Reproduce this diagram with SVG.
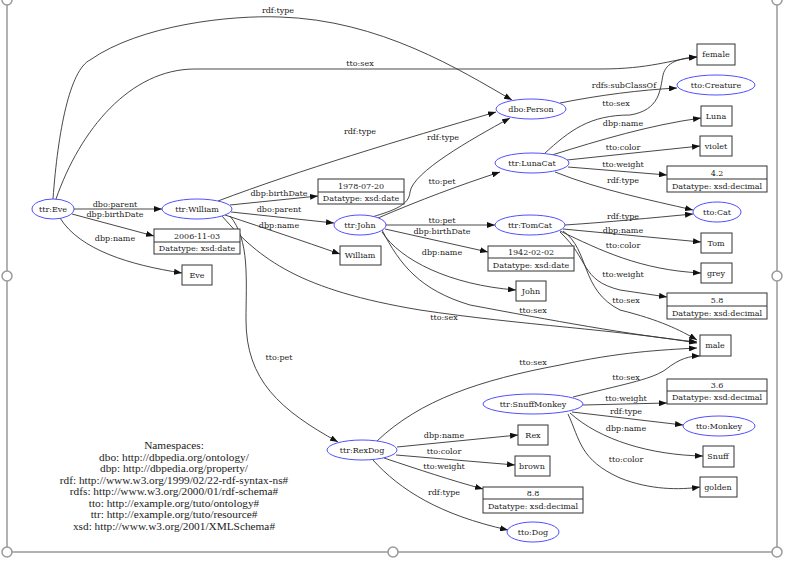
<svg xmlns="http://www.w3.org/2000/svg" width="789" height="565" viewBox="0 0 789 565">
<style>
text{font-family:"DejaVu Serif","Liberation Serif",serif;font-size:8px;fill:#222;text-anchor:middle}
.n ellipse{fill:#fff;stroke:#5050ff;stroke-width:1}
.n rect{fill:#fff;stroke:#333;stroke-width:1}
.n line{stroke:#333}
#edges path{fill:none;stroke:#333;stroke-width:0.9;marker-end:url(#a)}
.ns{font-size:11.3px;font-family:"Liberation Serif",serif}
.frame{stroke:#999;stroke-width:1.5;fill:none}
.h{fill:#fff;stroke:#999;stroke-width:1.5}
</style>
<defs><marker id="a" markerWidth="8" markerHeight="6" refX="8" refY="3" orient="auto" markerUnits="userSpaceOnUse"><path d="M0,0 L8,3 L0,6z" fill="#111"/></marker></defs>
<rect width="789" height="565" fill="#fff"/>
<g class="frame"><line x1="7" y1="0" x2="7" y2="552"/><line x1="777" y1="0" x2="777" y2="552"/><line x1="7" y1="552" x2="777" y2="552"/></g>
<g id="edges">
<path d="M53,199 C58,130 70,70 90,60 C140,25 230,15 280,17 C380,20 460,70 512,100"/>
<path d="M56,199 C80,130 130,69 195,69 L600,69 C650,69 670,60 697,57"/>
<path d="M74,209 L162,209"/>
<path d="M72,214 L154,236"/>
<path d="M60,218 C80,250 130,265 182,273"/>
<path d="M218,201 C300,170 400,140 496,112"/>
<path d="M230,205 L318,196"/>
<path d="M231,212 L334,223"/>
<path d="M225,215 C270,230 300,240 340,254"/>
<path d="M222,216 C260,260 300,290 420,310 C520,325 620,330 697,343"/>
<path d="M230,216 C250,240 246,280 246,320 C246,380 280,410 338,442"/>
<path d="M372,217 C395,210 409,205 410,192 C413,172 470,140 510,118"/>
<path d="M378,218 C420,200 460,185 500,172"/>
<path d="M386,225 L495,225"/>
<path d="M385,229 L488,252"/>
<path d="M382,232 C400,260 450,285 516,290"/>
<path d="M382,230 C400,265 420,290 470,305 C550,320 630,335 697,342"/>
<path d="M544,154 C570,130 590,115 630,115 C660,110 660,90 663,75 C666,62 680,58 697,57"/>
<path d="M552,155 C600,140 650,125 701,118"/>
<path d="M567,160 L700,146"/>
<path d="M568,167 L667,175"/>
<path d="M555,172 C600,190 650,200 693,210"/>
<path d="M560,103 C600,95 640,90 677,88"/>
<path d="M565,225 C610,222 650,218 693,214"/>
<path d="M563,229 L701,242"/>
<path d="M560,231 C600,250 640,270 701,273"/>
<path d="M560,232 C590,260 580,280 620,290 L667,297"/>
<path d="M563,231 C590,250 580,290 620,310 C660,320 680,330 697,340"/>
<path d="M377,441 C420,400 480,380 560,365 C620,352 660,350 697,348"/>
<path d="M573,397 C620,385 650,380 665,370 C680,358 690,356 700,356"/>
<path d="M583,405 L667,403"/>
<path d="M572,412 L683,425"/>
<path d="M570,413 C600,440 650,455 703,456"/>
<path d="M568,414 C580,440 580,460 620,478 C650,490 680,490 700,487"/>
<path d="M397,447 L518,435"/>
<path d="M396,455 L515,465"/>
<path d="M384,458 C420,470 450,480 483,489"/>
<path d="M373,460 C400,490 440,515 508,530"/>
</g>
<g id="edge-labels">
<text x="278" y="13">rdf:type</text><text x="360" y="66">tto:sex</text>
<text x="115" y="207">dbo:parent</text><text x="115" y="217">dbp:birthDate</text><text x="115" y="241">dbp:name</text>
<text x="360" y="134">rdf:type</text><text x="279" y="196">dbp:birthDate</text><text x="279" y="212">dbo:parent</text><text x="279" y="228">dbp:name</text>
<text x="444" y="320">tto:sex</text><text x="279" y="360">tto:pet</text>
<text x="443" y="140">rdf:type</text><text x="442" y="184">tto:pet</text><text x="442" y="223">tto:pet</text><text x="442" y="234">dbp:birthDate</text><text x="442" y="255">dbp:name</text><text x="533" y="313">tto:sex</text>
<text x="616" y="106">tto:sex</text><text x="623" y="126">dbp:name</text><text x="623" y="150">tto:color</text><text x="623" y="167">tto:weight</text><text x="623" y="183">rdf:type</text>
<text x="624" y="88">rdfs:subClassOf</text>
<text x="623" y="219">rdf:type</text><text x="623" y="233">dbp:name</text><text x="623" y="248">tto:color</text><text x="623" y="277">tto:weight</text><text x="626" y="303">tto:sex</text>
<text x="533" y="365">tto:sex</text><text x="626" y="380">tto:sex</text><text x="626" y="401">tto:weight</text><text x="626" y="414">rdf:type</text><text x="626" y="431">dbp:name</text><text x="626" y="462">tto:color</text>
<text x="444" y="438">dbp:name</text><text x="444" y="454">tto:color</text><text x="444" y="469">tto:weight</text><text x="444" y="495">rdf:type</text>
</g>
<g id="Eve" class="n"><ellipse cx="53" cy="209" rx="21" ry="10"/><text x="53" y="212">ttr:Eve</text></g>
<g id="William" class="n"><ellipse cx="197" cy="209" rx="35" ry="10"/><text x="197" y="212">ttr:William</text></g>
<g id="John" class="n"><ellipse cx="360" cy="225" rx="26" ry="10"/><text x="360" y="228">ttr:John</text></g>
<g id="Person" class="n"><ellipse cx="531" cy="109" rx="35" ry="10"/><text x="531" y="112">dbo:Person</text></g>
<g id="Creature" class="n"><ellipse cx="716" cy="85" rx="39" ry="10"/><text x="716" y="88">tto:Creature</text></g>
<g id="female" class="n"><rect x="697" y="44" width="38" height="21"/><text x="716" y="57">female</text></g>
<g id="Luna" class="n"><rect x="701" y="106" width="31" height="20"/><text x="716" y="119">Luna</text></g>
<g id="violet" class="n"><rect x="700" y="136" width="32" height="20"/><text x="716" y="149">violet</text></g>
<g id="w42" class="n"><rect x="667" y="166" width="100" height="26"/><line x1="667" y1="179" x2="767" y2="179"/><text x="717" y="176">4.2</text><text x="717" y="189">Datatype: xsd:decimal</text></g>
<g id="LunaCat" class="n"><ellipse cx="532" cy="163" rx="37" ry="10"/><text x="532" y="166">ttr:LunaCat</text></g>
<g id="Cat" class="n"><ellipse cx="717" cy="212" rx="24" ry="10"/><text x="717" y="215">tto:Cat</text></g>
<g id="TomCat" class="n"><ellipse cx="530" cy="225" rx="35" ry="10"/><text x="530" y="228">ttr:TomCat</text></g>
<g id="Tom" class="n"><rect x="701" y="233" width="31" height="20"/><text x="716" y="246">Tom</text></g>
<g id="grey" class="n"><rect x="701" y="263" width="31" height="20"/><text x="716" y="276">grey</text></g>
<g id="w58" class="n"><rect x="667" y="293" width="100" height="26"/><line x1="667" y1="306" x2="767" y2="306"/><text x="717" y="303">5.8</text><text x="717" y="316">Datatype: xsd:decimal</text></g>
<g id="male" class="n"><rect x="700" y="335" width="31" height="21"/><text x="715" y="348">male</text></g>
<g id="d1978" class="n"><rect x="318" y="179" width="86" height="25"/><line x1="318" y1="192" x2="404" y2="192"/><text x="361" y="189">1978-07-20</text><text x="361" y="201">Datatype: xsd:date</text></g>
<g id="d2006" class="n"><rect x="154" y="229" width="86" height="25"/><line x1="154" y1="242" x2="240" y2="242"/><text x="197" y="239">2006-11-03</text><text x="197" y="251">Datatype: xsd:date</text></g>
<g id="WilliamL" class="n"><rect x="340" y="246" width="41" height="19"/><text x="360" y="258">William</text></g>
<g id="EveL" class="n"><rect x="182" y="265" width="30" height="20"/><text x="197" y="278">Eve</text></g>
<g id="d1942" class="n"><rect x="488" y="246" width="86" height="25"/><line x1="488" y1="258" x2="574" y2="258"/><text x="531" y="255">1942-02-02</text><text x="531" y="268">Datatype: xsd:date</text></g>
<g id="JohnL" class="n"><rect x="516" y="281" width="30" height="20"/><text x="531" y="294">John</text></g>
<g id="w36" class="n"><rect x="667" y="379" width="100" height="25"/><line x1="667" y1="391" x2="767" y2="391"/><text x="717" y="388">3.6</text><text x="717" y="400">Datatype: xsd:decimal</text></g>
<g id="SnuffMonkey" class="n"><ellipse cx="533" cy="404" rx="50" ry="10"/><text x="533" y="407">ttr:SnuffMonkey</text></g>
<g id="Monkey" class="n"><ellipse cx="719" cy="426" rx="36" ry="10"/><text x="719" y="429">tto:Monkey</text></g>
<g id="Snuff" class="n"><rect x="703" y="446" width="31" height="21"/><text x="718" y="459">Snuff</text></g>
<g id="golden" class="n"><rect x="700" y="477" width="37" height="20"/><text x="718" y="490">golden</text></g>
<g id="RexDog" class="n"><ellipse cx="362" cy="450" rx="35" ry="10"/><text x="362" y="453">ttr:RexDog</text></g>
<g id="Rex" class="n"><rect x="518" y="425" width="30" height="20"/><text x="533" y="438">Rex</text></g>
<g id="brown" class="n"><rect x="515" y="456" width="35" height="20"/><text x="532" y="469">brown</text></g>
<g id="w88" class="n"><rect x="483" y="487" width="100" height="26"/><line x1="483" y1="499" x2="583" y2="499"/><text x="533" y="496">8.8</text><text x="533" y="509">Datatype: xsd:decimal</text></g>
<g id="Dog" class="n"><ellipse cx="533" cy="532" rx="26" ry="10"/><text x="533" y="535">tto:Dog</text></g>
<g id="namespaces">
<text x="174" y="449" class="ns">Namespaces:</text>
<text x="174" y="460.5" class="ns">dbo: http://dbpedia.org/ontology/</text>
<text x="174" y="472" class="ns">dbp: http://dbpedia.org/property/</text>
<text x="174" y="483.5" class="ns">rdf: http://www.w3.org/1999/02/22-rdf-syntax-ns#</text>
<text x="174" y="495" class="ns">rdfs: http://www.w3.org/2000/01/rdf-schema#</text>
<text x="174" y="506.5" class="ns">tto: http://example.org/tuto/ontology#</text>
<text x="174" y="518" class="ns">ttr: http://example.org/tuto/resource#</text>
<text x="174" y="529.5" class="ns">xsd: http://www.w3.org/2001/XMLSchema#</text>
</g>
<g><circle class="h" cx="7" cy="0" r="5"/><circle class="h" cx="7" cy="276" r="5"/><circle class="h" cx="7" cy="552" r="5"/><circle class="h" cx="393" cy="552" r="5"/><circle class="h" cx="777" cy="552" r="5"/><circle class="h" cx="777" cy="276" r="5"/><circle class="h" cx="777" cy="0" r="5"/></g>
</svg>
